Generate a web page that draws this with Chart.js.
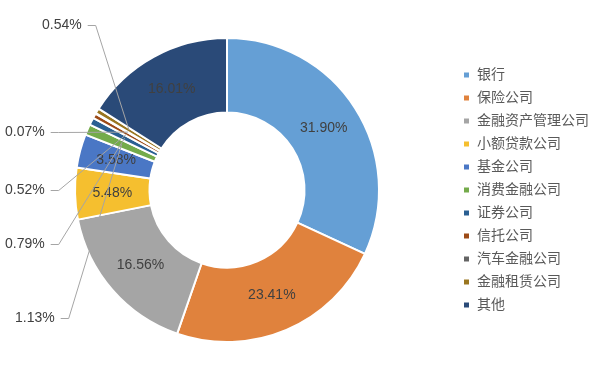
<!DOCTYPE html>
<html>
<head>
<meta charset="utf-8">
<script src="https://cdn.jsdelivr.net/npm/chart.js@4.4.1/dist/chart.umd.min.js"></script>
<style>
  html, body { margin: 0; padding: 0; background: #ffffff; }
  #wrap { width: 603px; height: 374px; position: relative; }
</style>
</head>
<body>
<div id="wrap"><canvas id="c" width="603" height="374"></canvas></div>
<script>
// ---- data ----
const categories = ['银行', '保险公司', '金融资产管理公司', '小额贷款公司', '基金公司', '消费金融公司', '证券公司', '信托公司', '汽车金融公司', '金融租赁公司', '其他'];
const shares = [31.90, 23.41, 16.56, 5.48, 3.58, 1.13, 0.79, 0.52, 0.07, 0.54, 16.01];
const sliceColors = ['#659fd5', '#e0823d', '#a5a5a5', '#f5bf2f', '#4a77c5', '#74ab4b', '#2a5f92', '#9c4a17', '#646464', '#9a7620', '#2a4a78'];

// positions of the outside labels for the small slices (index -> text anchor)
const outsideLabelPos = {
  5: { x: 15, y: 318 },
  6: { x: 5, y: 244 },
  7: { x: 5, y: 190 },
  8: { x: 5, y: 132 },
  9: { x: 42, y: 25 }
};

const FONT = '"Liberation Sans", Arial, "Noto Sans CJK SC", sans-serif';

const labelPlugin = {
  id: 'sliceLabels',
  afterDatasetsDraw(chart) {
    const ctx = chart.ctx;
    const meta = chart.getDatasetMeta(0);
    ctx.save();
    ctx.font = '14px ' + FONT;
    ctx.textBaseline = 'middle';
    meta.data.forEach((arc, i) => {
      const p = arc.getProps(['x', 'y', 'startAngle', 'endAngle', 'innerRadius', 'outerRadius'], true);
      const mid = (p.startAngle + p.endAngle) / 2;
      const r = (p.innerRadius + p.outerRadius) / 2;
      const mx = p.x + Math.cos(mid) * r;
      const my = p.y + Math.sin(mid) * r;
      const txt = shares[i].toFixed(2) + '%';
      const pos = outsideLabelPos[i];
      if (pos) {
        ctx.textAlign = 'left';
        ctx.fillStyle = '#404040';
        ctx.fillText(txt, pos.x, pos.y);
        const w = ctx.measureText(txt).width;
        const sx = pos.x + w + 6;
        ctx.strokeStyle = '#a5a5a5';
        ctx.lineWidth = 1;
        ctx.beginPath();
        ctx.moveTo(sx, pos.y + 0.5);
        ctx.lineTo(sx + 8, pos.y + 0.5);
        ctx.lineTo(mx, my);
        ctx.stroke();
      } else {
        ctx.textAlign = 'center';
        ctx.fillStyle = '#404040';
        ctx.fillText(txt, mx, my);
      }
    });
    ctx.restore();
  }
};

new Chart(document.getElementById('c'), {
  type: 'doughnut',
  data: {
    labels: categories,
    datasets: [{
      data: shares,
      backgroundColor: sliceColors,
      borderColor: '#ffffff',
      borderWidth: 2
    }]
  },
  options: {
    responsive: false,
    animation: false,
    cutout: '51%',
    layout: { padding: { top: 37, bottom: 31, left: 0, right: 4 } },
    plugins: {
      tooltip: { enabled: false },
      legend: {
        position: 'right',
        labels: {
          boxWidth: 7,
          boxHeight: 7,
          padding: 9,
          color: '#595959',
          font: { size: 14, family: FONT }
        }
      }
    }
  },
  plugins: [labelPlugin]
});
</script>
</body>
</html>
